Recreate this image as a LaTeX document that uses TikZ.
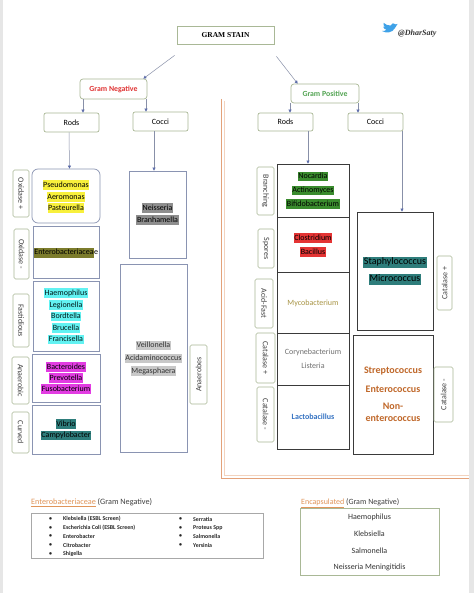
\documentclass[tikz,border=0pt]{standalone}
\usepackage{fontspec}
\setmainfont{Carlito}
\newfontfamily\tmsfont{Liberation Serif}
\usetikzlibrary{arrows.meta}
\definecolor{pagegray}{HTML}{E6E6E6}
\definecolor{negc}{HTML}{8A94B2}
\definecolor{posc}{HTML}{3A3A3A}
\definecolor{lblc}{HTML}{A9B896}
\definecolor{lbltxt}{HTML}{404040}
\definecolor{arrc}{HTML}{8890A8}
\definecolor{arrh}{HTML}{5A6AA8}
\definecolor{orD}{HTML}{E3A27A}
\definecolor{orL}{HTML}{F3D3BE}
\definecolor{twblue}{HTML}{3FA2E8}
\definecolor{hlyel}{HTML}{F8F03C}
\definecolor{hlcyan}{HTML}{62F2F2}
\definecolor{hlmag}{HTML}{E23CE2}
\definecolor{hlteal}{HTML}{2E7D7B}
\definecolor{hlolive}{HTML}{7C7C2C}
\definecolor{hlgray}{HTML}{8E8E8E}
\definecolor{hllgray}{HTML}{C8C8C8}
\definecolor{hlgreen}{HTML}{3A8C2E}
\definecolor{hlred}{HTML}{E43434}
\definecolor{gnred}{HTML}{E03434}
\definecolor{gpgreen}{HTML}{52A452}
\definecolor{mycoc}{HTML}{A89444}
\definecolor{coryc}{HTML}{707070}
\definecolor{lactc}{HTML}{3472C2}
\definecolor{strepc}{HTML}{C0682A}
\definecolor{orTitle}{HTML}{E0955A}
\definecolor{listbox}{HTML}{A8A8A8}
\newcommand\hlfont{\fontsize{8}{9.5}\selectfont}
\newcommand\lblfont{\fontsize{8}{9.5}\selectfont}
\begin{document}
\begin{tikzpicture}[x=1pt,y=-1pt,
  negbox/.style={draw=negc, line width=0.7pt, inner sep=0pt},
  posbox/.style={draw=posc, line width=0.9pt, inner sep=0pt},
  lbl/.style={draw=lblc, line width=0.6pt, rounded corners=1.5pt, inner sep=0pt, font=\lblfont, text=lbltxt},
  headbox/.style={draw=lblc, line width=0.7pt, rounded corners=3pt, inner sep=0pt},
  hl/.style={inner xsep=0.6pt, inner ysep=0.7pt, text height=6pt, text depth=1.7pt, font=\hlfont},
  plain/.style={inner sep=0.5pt, font=\hlfont},
  arr/.style={draw=arrc, line width=0.5pt, -{Triangle[length=3pt,width=3pt,color=arrh]}},
  bul/.style={inner sep=0pt, font=\fontsize{5.9}{6.5}\selectfont\bfseries, anchor=west, text=black!85}
]
\useasboundingbox (0,0) rectangle (474,593);
\fill[white] (0,0) rectangle (474,593);
\fill[pagegray] (0,0) rectangle (3,593);
\fill[pagegray] (469,0) rectangle (474,593);

% header
\node[draw=lblc, line width=0.8pt, minimum width=97pt, minimum height=18pt, inner sep=0pt,
  font=\tmsfont\bfseries\fontsize{7.5}{9}\selectfont] (gram) at (225.5,35) {GRAM STAIN};
\fill[twblue] (382,31) .. controls (386,33.5) and (392.5,33) .. (395,28)
  .. controls (395.7,26.5) and (396,25.5) .. (397.5,24)
  -- (395.8,24.4) .. controls (394.3,22.6) and (391.2,23) .. (390.6,25.6)
  .. controls (388,25.6) and (385.2,24.6) .. (383.6,22.8)
  .. controls (383,24.5) and (383.6,26) .. (385,27)
  .. controls (384.2,27) and (383.6,26.9) .. (383.1,26.7)
  .. controls (383.6,28.5) and (385,29.5) .. (386.6,29.8)
  .. controls (385.6,30.6) and (384,31.1) .. (382,31) -- cycle;
\node[font=\tmsfont\bfseries\itshape\fontsize{8}{9}\selectfont, anchor=west, inner sep=0pt, text=black!80] (tw) at (398,33.5) {@DharSaty};

\node[headbox, minimum width=67pt, minimum height=20pt, font=\fontsize{7.8}{9}\selectfont\bfseries, text=gnred] (gneg) at (113.5,89) {Gram Negative};
\node[headbox, minimum width=68pt, minimum height=19pt, font=\fontsize{7.8}{9}\selectfont\bfseries, text=gpgreen] (gpos) at (325,93.5) {Gram Positive};
\draw[arr] ([shift={(-2,11)}]gram.south west) -- ([xshift=-4pt]gneg.north east);
\draw[arr] ([shift={(2,12)}]gram.south east) -- ([xshift=7pt]gpos.north west);

\node[headbox, rounded corners=2pt, minimum width=55pt, minimum height=19pt, font=\hlfont] (nrods) at (71.5,122.5) {Rods};
\node[headbox, rounded corners=2pt, minimum width=55pt, minimum height=19pt, font=\hlfont] (ncocci) at (160.5,121.5) {Cocci};
\node[headbox, rounded corners=2pt, minimum width=55pt, minimum height=18pt, font=\hlfont] (prods) at (285.5,122) {Rods};
\node[headbox, rounded corners=2pt, minimum width=55pt, minimum height=18pt, font=\hlfont] (pcocci) at (375.5,122) {Cocci};
\draw[arr] ([xshift=-30.5pt]gneg.south) -- ([xshift=11.5pt]nrods.north);
\draw[arr] ([xshift=32.5pt]gneg.south) -- ([xshift=-14.5pt]ncocci.north);
\draw[arr] ([xshift=-35pt]gpos.south) -- ([xshift=4.5pt]prods.north);
\draw[arr] ([xshift=33pt]gpos.south) -- ([xshift=-17.5pt]pcocci.north);

% orange frame
\draw[orD, line width=0.9pt] (221,99) -- (221,478) -- (469,478);
\draw[orL, line width=0.7pt] (224,101) -- (224,475) -- (469,475);

% ---------- Gram negative ----------
\node[negbox, rounded corners=6pt, minimum width=68pt, minimum height=54pt] (pseudo) at (66,196) {};
\node[lbl, rotate=-90, minimum width=47pt, minimum height=16pt] (oxp) at (21,193.5) {Oxidase +};
\node[hl, fill=hlyel] (t1) at (66,185) {Pseudomonas};
\node[hl, fill=hlyel] (t2) at (66,197) {Aeromonas};
\node[hl, fill=hlyel] (t3) at (66,208) {Pasteurella};

\node[negbox, minimum width=66pt, minimum height=52pt] (entero) at (66,252) {};
\node[lbl, rotate=-90, minimum width=50pt, minimum height=15pt] (oxm) at (21.5,254) {Oxidase -};
\node[plain] (t4) at (66,253) {\setlength\fboxsep{0.6pt}\colorbox{hlolive}{\strut Enterobacteriacea}e};

\node[negbox, minimum width=66pt, minimum height=70pt] (fastbox) at (66,316) {};
\node[lbl, rotate=-90, minimum width=53pt, minimum height=16pt] (fastl) at (21,320.5) {Fastidious};
\node[hl, fill=hlcyan, text=black!80!teal] (t5) at (66,293) {Haemophilus};
\node[hl, fill=hlcyan, text=black!80!teal] (t6) at (66,305) {Legionella};
\node[hl, fill=hlcyan, text=black!80!teal] (t7) at (66,316.5) {Bordtella};
\node[hl, fill=hlcyan, text=black!80!teal] (t8) at (66,328) {Brucella};
\node[hl, fill=hlcyan, text=black!80!teal] (t9) at (66,339.5) {Francisella};

\node[negbox, minimum width=68pt, minimum height=48pt] (anbox) at (66,378) {};
\node[lbl, rotate=-90, minimum width=47pt, minimum height=17pt] (anl) at (20.5,380.5) {Anaerobic};
\node[hl, fill=hlmag] (t10) at (66,367) {Bacteroides};
\node[hl, fill=hlmag] (t11) at (66,378) {Prevotella};
\node[hl, fill=hlmag] (t12) at (66,389) {Fusobacterium};

\node[negbox, minimum width=68pt, minimum height=49pt] (curbox) at (66,429.5) {};
\node[lbl, rotate=-90, minimum width=41pt, minimum height=17pt] (curl) at (20.5,432.5) {Curved};
\node[hl, fill=hlteal] (t13) at (66,424) {Vibrio};
\node[hl, fill=hlteal] (t14) at (66,435.5) {Campylobacter};

\node[negbox, minimum width=57pt, minimum height=87pt] (neis) at (157.5,214.5) {};
\node[hl, fill=hlgray] (t15) at (157.5,208) {Neisseria};
\node[hl, fill=hlgray] (t16) at (157.5,220) {Branhamella};

\node[negbox, minimum width=67pt, minimum height=188pt] (veil) at (153.5,358) {};
\node[hl, fill=hllgray, text=black!80] (t17) at (153.5,345.5) {Veillonella};
\node[hl, fill=hllgray, text=black!80] (t18) at (153.5,358.5) {Acidaminococcus};
\node[hl, fill=hllgray, text=black!80] (t19) at (153.5,371) {Megasphaera};
\node[lbl, rotate=90, minimum width=59pt, minimum height=17pt] (anaer) at (198.5,374.5) {Anaerobes};

\draw[arr] ([xshift=-2.5pt]nrods.south) -- ([xshift=3.5pt]pseudo.north);
\draw[arr] ([xshift=-6.5pt]ncocci.south) -- ([xshift=-3.5pt]neis.north);

% ---------- Gram positive ----------
\node[posbox, minimum width=72pt, minimum height=53pt] (noc) at (313,190.5) {};
\node[lbl, rotate=-90, minimum width=48pt, minimum height=17pt] (brl) at (265.5,191) {Branching};
\node[hl, fill=hlgreen] (t20) at (313,176.5) {Nocardia};
\node[hl, fill=hlgreen] (t21) at (313,190.5) {Actinomyces};
\node[hl, fill=hlgreen] (t22) at (313,204) {Bifidobacterium};

\node[posbox, minimum width=72pt, minimum height=55pt] (clos) at (313,244.5) {};
\node[lbl, rotate=-90, minimum width=39pt, minimum height=16pt] (spl) at (266,248.5) {Spores};
\node[hl, fill=hlred] (t23) at (313,238) {Clostridium};
\node[hl, fill=hlred] (t24) at (313,252) {Bacillus};

\node[posbox, minimum width=72pt, minimum height=61pt] (myco) at (313,302.5) {};
\node[lbl, rotate=-90, minimum width=49pt, minimum height=18pt] (acl) at (264,303.5) {Acid-Fast};
\node[plain, text=mycoc] (t25) at (313,303) {Mycobacterium};

\node[posbox, minimum width=72pt, minimum height=52pt] (cory) at (313,359) {};
\node[lbl, rotate=-90, minimum width=50pt, minimum height=19pt] (cpl) at (265.5,358) {Catalase +};
\node[plain, text=coryc] (t26) at (313,352) {Corynebacterium};
\node[plain, text=coryc] (t27) at (313,366) {Listeria};

\node[posbox, minimum width=72pt, minimum height=64pt] (lacto) at (313,417) {};
\node[lbl, rotate=-90, minimum width=55pt, minimum height=17pt] (cml) at (265.5,414.5) {Catalase -};
\node[plain, text=lactc, font=\hlfont\bfseries] (t28) at (313,417) {Lactobacillus};

\node[posbox, minimum width=76pt, minimum height=118pt] (staph) at (395,271) {};
\node[hl, fill=hlteal, font=\fontsize{10}{12}\selectfont, text height=7.4pt, text depth=2.2pt] (t29) at (395,262) {Staphylococcus};
\node[hl, fill=hlteal, font=\fontsize{10}{12}\selectfont, text height=7.4pt, text depth=2.2pt] (t30) at (395,279) {Micrococcus};
\node[lbl, rotate=90, minimum width=54pt, minimum height=15pt] (cpl2) at (444.5,283) {Catalase +};

\node[posbox, minimum width=80pt, minimum height=119pt] (strep) at (393,394.5) {};
\node[plain, text=strepc, font=\fontsize{10}{12}\selectfont\bfseries] (t31) at (393,371) {Streptococcus};
\node[plain, text=strepc, font=\fontsize{10}{12}\selectfont\bfseries] (t32) at (393,389) {Enterococcus};
\node[plain, text=strepc, font=\fontsize{10}{12}\selectfont\bfseries] (t33) at (393,406) {Non-};
\node[plain, text=strepc, font=\fontsize{10}{12}\selectfont\bfseries] (t34) at (393,418.5) {enterococcus};
\node[lbl, rotate=90, minimum width=55pt, minimum height=19pt] (cml2) at (443.5,394.5) {Catalase -};

\draw[arr] ([xshift=22.5pt]prods.south) -- ([xshift=-5pt]noc.north);
\draw[arr] ([xshift=26.5pt]pcocci.south) -- ([xshift=7pt]staph.north);

% ---------- bottom lists ----------
\node[anchor=west, inner sep=0pt, font=\fontsize{8.2}{9.5}\selectfont, text=black!75] (enttitle) at (31,503)
  {\textcolor{orTitle}{\underline{Enterobacteriaceae}} (Gram Negative)};
\node[draw=listbox, line width=0.8pt, minimum width=232pt, minimum height=45pt, inner sep=0pt] (entlist) at (147,535.5) {};
\foreach \t [count=\i] in {Klebsiella (ESBL Screen), Escherichia Coli (ESBL Screen), Enterobacter, Citrobacter, Shigella}{
  \node[bul] (ba\i) at (49,510.3+8.7*\i) {•};
  \node[bul] (ia\i) at (63,510.3+8.7*\i) {\t};
}
\foreach \t [count=\i] in {Serratia, Proteus Spp, Salmonella, Yersinia}{
  \node[bul] (bb\i) at (179,510.3+8.7*\i) {•};
  \node[bul] (ib\i) at (193,510.3+8.7*\i) {\t};
}

\node[anchor=west, inner sep=0pt, font=\fontsize{8}{9.5}\selectfont, text=black!75] (enctitle) at (301,503)
  {\textcolor{orTitle}{\underline{Encapsulated}} (Gram Negative)};
\node[draw=lblc, line width=0.8pt, minimum width=139pt, minimum height=67pt, inner sep=0pt] (encbox) at (369.5,541.5) {};
\node[plain, text=black!80] (e1) at (369.5,517) {Haemophilus};
\node[plain, text=black!80] (e2) at (369.5,534) {Klebsiella};
\node[plain, text=black!80] (e3) at (369.5,550.5) {Salmonella};
\node[plain, text=black!80] (e4) at (369.5,567.5) {Neisseria Meningitidis};
\end{tikzpicture}
\end{document}
